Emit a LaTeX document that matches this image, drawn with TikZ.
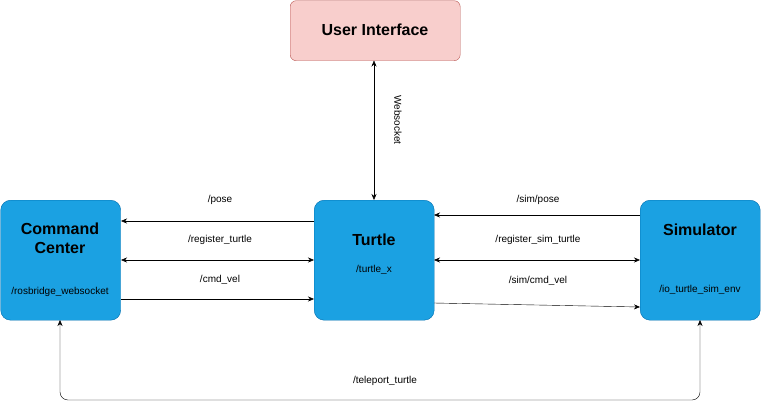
\documentclass[tikz,border=0pt]{standalone}
\usepackage{fontspec}
\setmainfont{Liberation Sans}
\usetikzlibrary{arrows.meta}
\definecolor{bl}{HTML}{1BA1E2}
\definecolor{blb}{HTML}{006EAF}
\definecolor{pk}{HTML}{F8CECC}
\definecolor{pkb}{HTML}{B85450}
\begin{document}
\begin{tikzpicture}[x=1pt,y=-1pt,
  box/.style={draw=blb,fill=bl,rounded corners=10pt,minimum width=120pt,minimum height=120pt,anchor=north west,inner sep=0},
  lab/.style={font=\fontsize{10}{12}\selectfont},
  ttl/.style={font=\fontsize{16}{19}\selectfont\bfseries,align=center},
  arr/.style={-{Stealth[length=6pt,width=5pt]}},
  darr/.style={{Stealth[length=6pt,width=5pt]}-{Stealth[length=6pt,width=5pt]}}]
\useasboundingbox (0,0) rectangle (761,410);
\node[draw=pkb,fill=pk,rounded corners=6pt,minimum width=170pt,minimum height=60pt,anchor=north west,inner sep=0] (ui) at (290,0.5) {};
\node[ttl] at (375,30) {User Interface};
\node[box] (cc) at (0.5,200) {};
\node[box] (tu) at (314,200) {};
\node[box] (si) at (640,200) {};
\node[ttl] at (60,238) {Command\\Center};
\node[lab] at (60,292) {/rosbridge\_websocket};
\node[ttl] at (374,240) {Turtle};
\node[lab] at (374,270) {/turtle\_x};
\node[ttl] at (700,230) {Simulator};
\node[lab] at (700,290) {/io\_turtle\_sim\_env};
\draw[darr] (374,60.5) -- (374,200);
\node[lab,rotate=-90] at (398,120) {Websocket};
\draw[arr] (314,221) -- (121,221);
\node[lab] at (220,200) {/pose};
\draw[darr] (121,260) -- (314,260);
\node[lab] at (220,240) {/register\_turtle};
\draw[arr] (121,299) -- (314,299);
\node[lab] at (220,280) {/cmd\_vel};
\draw[arr] (640,215) -- (434,215);
\node[lab] at (538,200) {/sim/pose};
\draw[darr] (434,260) -- (640,260);
\node[lab] at (538,240) {/register\_sim\_turtle};
\draw[arr] (434,303) -- (640,307);
\node[lab] at (538,281) {/sim/cmd\_vel};
\draw[darr,rounded corners=8pt] (60,320) -- (60,400) -- (700,400) -- (700,320);
\node[lab] at (385,381) {/teleport\_turtle};
\end{tikzpicture}
\end{document}
